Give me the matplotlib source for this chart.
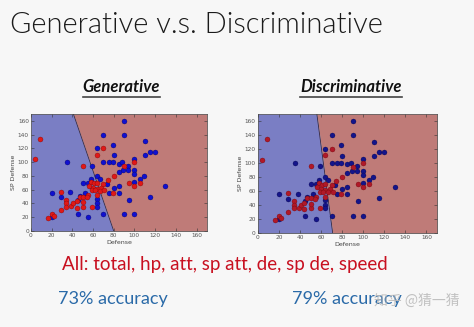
import matplotlib.pyplot as plt

# class 1 (blue) and class 2 (red) points, Defense vs SP Defense
blue_def = [90, 70, 90, 110, 79, 64, 115, 120, 80, 110, 70, 75, 79, 85, 88, 100, 35,
            59, 94, 94, 89, 100, 85, 100, 64, 109, 58, 67, 50, 55, 105, 73, 100, 80,
            85, 130, 75, 85, 20, 38, 29, 47, 52, 115, 95, 45, 64, 64, 64, 45, 55, 70,
            90, 100, 20]
blue_sp = [160, 140, 140, 130, 125, 120, 115, 115, 110, 110, 100, 100, 100, 98, 100, 105,
           100, 95, 95, 89, 89, 89, 85, 83, 80, 80, 76, 76, 70, 70, 76, 68, 71, 63,
           65, 65, 55, 55, 55, 56, 49, 51, 55, 50, 45, 45, 47, 40, 35, 24, 20, 24,
           24, 24, 20]
red_def = [9, 4, 50, 70, 64, 100, 90, 80, 74, 70, 95, 105, 100, 79, 58, 61, 64, 56, 60,
           64, 68, 59, 62, 67, 71, 55, 64, 29, 34, 34, 34, 39, 41, 44, 47, 50, 54, 50,
           59, 29, 16, 20, 22, 44, 50]
red_sp = [134, 104, 95, 120, 111, 100, 94, 80, 74, 68, 70, 70, 65, 55, 71, 69, 70, 65, 63,
          61, 63, 59, 59, 58, 59, 52, 52, 57, 45, 40, 35, 36, 40, 43, 50, 50, 49, 35,
          35, 30, 19, 24, 22, 34, 42]

# decision boundary: Defense value at SP Defense = 170 and at 0
gen_boundary = [41, 80]
disc_boundary = [56, 71]

titles = ["Generative", "Discriminative"]
accuracy = ["73% accuracy", "79% accuracy"]

bg = "#f7f7f7"
fig = plt.figure(figsize=(4.74, 3.27), dpi=100, facecolor=bg)

fig.text(0.021, 0.925, "Generative v.s. Discriminative", fontsize=21,
         family="Lato", weight=300, color="#1a1a1a", va="center")

boxes = [[0.0654, 0.2936, 0.371, 0.358], [0.544, 0.2875, 0.378, 0.364]]
bounds = [gen_boundary, disc_boundary]
pt_colors = [("#1010d0", "#e01818"), ("#14148a", "#b01828")]

for i in range(2):
    ax = fig.add_axes(boxes[i])
    b = bounds[i]
    ax.fill_betweenx([170, 0], [0, 0], b, color="#7a7ec4", lw=0)
    ax.fill_betweenx([170, 0], b, [170, 170], color="#bf7b78", lw=0)
    ax.plot(b, [170, 0], color="#3a2a40", lw=0.6)
    cb, cr = pt_colors[i]
    ax.scatter(blue_def, blue_sp, s=13, color=cb, lw=0.2, edgecolor="#000040", zorder=3)
    ax.scatter(red_def, red_sp, s=13, color=cr, lw=0.2, edgecolor="#600000", zorder=3)
    ax.set_xlim(0, 170)
    ax.set_ylim(0, 170)
    ax.set_xticks(range(0, 161, 20))
    ax.set_yticks(range(0, 161, 20))
    ax.tick_params(direction="in", length=2, width=0.4, labelsize=4.2, pad=1.5,
                   top=True, right=True, colors="#333333", labelcolor="#555555")
    for s in ax.spines.values():
        s.set_linewidth(0.5)
        s.set_color("#444444")
    ax.set_xlabel("Defense", fontsize=4.5, labelpad=1.5, color="#444444")
    ax.set_ylabel("SP Defense", fontsize=4.5, labelpad=1.5, color="#444444")

    cx = [0.256, 0.740][i]
    t = fig.text(cx, 0.733, titles[i], fontsize=12, family="Lato", weight="bold",
                 style="italic", ha="center", va="center", color="#111111")
    fig.canvas.draw()
    bb = t.get_window_extent()
    x0, x1 = bb.x0 / 474, bb.x1 / 474
    fig.add_artist(plt.Line2D([x0, x1], [0.702, 0.702], color="#444444", lw=1.2))

fig.text(0.13, 0.19, "All: total, hp, att, sp att, de, sp de, speed", fontsize=13.5,
         family="Lato", color="#c81020", va="center")
fig.text(0.122, 0.085, accuracy[0], fontsize=13, family="Lato", color="#2a6aa8", va="center")
fig.text(0.616, 0.085, accuracy[1], fontsize=13, family="Lato", color="#2a6aa8", va="center")
fig.text(0.79, 0.08, "知乎 @猜一猜", fontsize=10, family=["Noto Sans CJK SC", "DejaVu Sans"],
         color="#bbbbbb", alpha=0.9, va="center")

fig.savefig("out.png", dpi=100, facecolor=bg)
